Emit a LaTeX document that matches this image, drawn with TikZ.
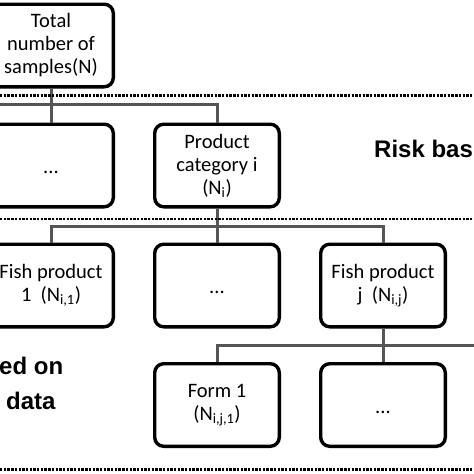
\documentclass[tikz,border=0pt]{standalone}
\usepackage{fontspec}
\setmainfont{Carlito}
\newfontfamily\headfont{Liberation Sans}
\usepackage{tikz}
\usetikzlibrary{calc}

\definecolor{linkgray}{HTML}{555555}
\newcommand{\lowdots}{\raisebox{-8pt}[0pt][0pt]{...}}

\begin{document}
\begin{tikzpicture}[x=1pt,y={(0,-1pt)},
		box/.style={draw,line width=3.4pt,rounded corners=9pt,minimum width=124.6pt,minimum height=82.6pt,align=center,inner sep=0pt,font=\fontsize{20.5}{23}\selectfont},
		link/.style={draw=linkgray,line width=3pt},
		sep/.style={line width=2.7pt,dash pattern=on 2.4pt off 1.3pt},
		side/.style={font=\headfont\bfseries\fontsize{24}{28}\selectfont,inner sep=0pt,anchor=base west}]
		\useasboundingbox (0,0) rectangle (474,474);
		\clip (0,0) rectangle (474,474);
		
		% boxes
		\node[box] (tot) at (51,45.5) {Total\\number of\\samples(N)};
		\node[box] (catdots) at (51,165.5) {\lowdots};
		\node[box] (cati) at (217,165.5) {Product\\category i\\(N\textsubscript{i})};
		\node[box] (fp1) at (51,285.5) {Fish product\\1\ \ (N\textsubscript{i,1})};
		\node[box] (fpdots) at (217,285.5) {\lowdots};
		\node[box] (fpj) at (383,285.5) {Fish product\\j\ \ (N\textsubscript{i,j})};
		\node[box] (form1) at (217,405) {Form 1\\(N\textsubscript{i,j,1})};
		\node[box] (formdots) at (383,405) {\lowdots};
		
		% free ends of the buses
		\coordinate (busa) at (-30,104);
		\coordinate (busb) at (0,226);
		\coordinate (busc) at (500,345);
		
		% connectors
		\draw[link] (tot.south) -- (catdots.north);
		\draw[link] (busa) -| (cati.north);
		\draw[link] (cati.south) -- (fpdots.north);
		\draw[link] (fp1.north) -- (fp1.north |- busb) -| (fpj.north);
		\draw[link] (fpj.south) -- (formdots.north);
		\draw[link] (form1.north) -- (form1.north |- busc) -- (busc);
		
		% dotted separators
		\coordinate (sepa) at (0,95.5);
		\coordinate (sepb) at (0,219);
		\coordinate (sepc) at (0,469.5);
		\draw[sep] (sepa) -- ++(474,0);
		\draw[sep] (sepb) -- ++(474,0);
		\draw[sep] (sepc) -- ++(474,0);
		
		% side labels
		\node[side] (risk) at (374,157) {Risk bas};
		\node[side] (edon) at (-1,374) {ed on};
		\node[side] (data) at (6,409) {data};
		
	\end{tikzpicture}
\end{document}
